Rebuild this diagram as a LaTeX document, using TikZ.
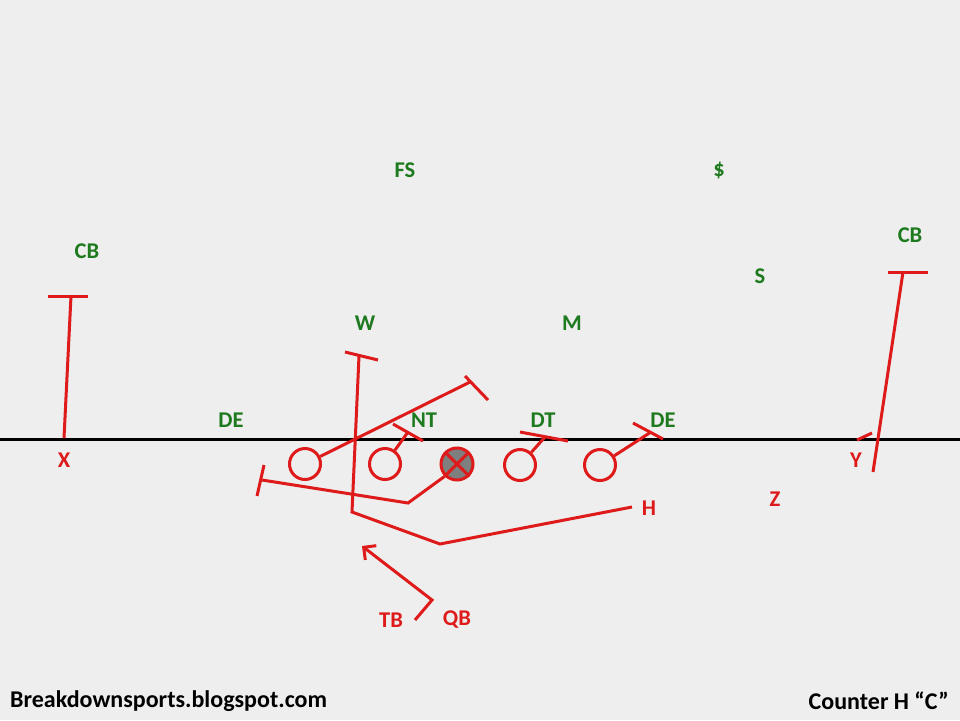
\documentclass[tikz,border=0pt]{standalone}
\usepackage{fontspec}
\setmainfont{Carlito}
\usetikzlibrary{arrows.meta}
\definecolor{fieldbg}{RGB}{238,238,238}
\definecolor{offred}{RGB}{222,26,26}
\definecolor{defgreen}{RGB}{30,122,30}
\definecolor{ballgray}{RGB}{127,127,127}

\begin{document}
\begin{tikzpicture}[x=1pt,y=-1pt,
  route/.style={offred, line width=3pt},
  lineman/.style={circle, draw=offred, line width=3pt, minimum size=31pt, inner sep=0pt},
  deflabel/.style={text=defgreen, font=\fontsize{22.5}{26}\selectfont\bfseries},
  offlabel/.style={text=offred, font=\fontsize{22.5}{26}\selectfont\bfseries}]
%background
\fill[fieldbg] (0,0) rectangle (960,720);
\useasboundingbox (0,0) rectangle (960,720);
%line of scrimmage
\draw[black, line width=3pt] (0,439) -- (960,439);

%defense
\node[deflabel] (fs) at (405,170) {FS};
\node[deflabel] (money) at (719,170) {\$};
\node[deflabel] (lcb) at (87,251) {CB};
\node[deflabel] (rcb) at (910,235) {CB};
\node[deflabel] (ss) at (760,276) {S};
\node[deflabel] (will) at (365,323) {W};
\node[deflabel] (mike) at (572,323) {M};
\node[deflabel] (lde) at (231,420) {DE};
\node[deflabel] (nt) at (424,420) {NT};
\node[deflabel] (dt) at (543,420) {DT};
\node[deflabel] (rde) at (663,420) {DE};

%offense
\node[lineman] (lt) at (305,464) {};
\node[lineman] (lg) at (385,464) {};
\node[lineman, fill=ballgray, minimum size=32pt] (c) at (457,464) {};
\node[lineman] (rg) at (520,465) {};
\node[lineman] (rt) at (600,465) {};
\draw[route] (c.north west) -- (c.south east);
\draw[route] (c.north east) -- (c.south west);
\node[offlabel] (x) at (64,460) {X};
\node[offlabel] (y) at (856,460) {Y};
\node[offlabel] (h) at (649,508) {H};
\node[offlabel] (z) at (775,499) {Z};
\node[offlabel] (tb) at (391,620) {TB};
\node[offlabel] (qb) at (457,620) {QB};

%route points
\coordinate (ltend) at (470,382);
\coordinate (lgend) at (408,432);
\coordinate (rgend) at (545,437);
\coordinate (rtend) at (651,432);
\coordinate (cbend) at (408,503);
\coordinate (cend) at (262,480);
\coordinate (hstart) at (632,507);
\coordinate (hbend) at (440,544);
\coordinate (hturn) at (352,512);
\coordinate (hend) at (359,356);
\coordinate (tbstart) at (415,620);
\coordinate (tbbend) at (432,600);
\coordinate (tbend) at (362,546);
\coordinate (xstart) at (64,438);
\coordinate (xend) at (71,296);
\coordinate (ystart) at (873,472);
\coordinate (yend) at (903,272);

%blocks
\draw[route] (lt) -- (ltend);
\draw[route] ([shift={(-5,-6)}]ltend) -- ([shift={(18,18)}]ltend);
\draw[route] (lg) -- (lgend);
\draw[route] ([shift={(-15,-8)}]lgend) -- ([shift={(15,9)}]lgend);
\draw[route] (rg) -- (rgend);
\draw[route] ([shift={(-25,-5)}]rgend) -- ([shift={(23,4)}]rgend);
\draw[route] (rt) -- (rtend);
\draw[route] ([shift={(-18,-9)}]rtend) -- ([shift={(12,7)}]rtend);
\draw[route] (c.south west) -- (cbend) -- (cend);
\draw[route] ([shift={(2,-15)}]cend) -- ([shift={(-5,16)}]cend);
\draw[route] (hstart) -- (hbend) -- (hturn) -- (hend);
\draw[route] ([shift={(-14,-4)}]hend) -- ([shift={(19,4)}]hend);
\draw[route, -{Straight Barb[length=9pt,width=18pt]}] (tbstart) -- (tbbend) -- (tbend);
\draw[route] (xstart) -- (xend);
\draw[route] ([shift={(-23,0)}]xend) -- ([shift={(17,0)}]xend);
\draw[route] (ystart) -- (yend);
\draw[route] ([shift={(-15,0)}]yend) -- ([shift={(25,0)}]yend);
\draw[route] (857,440) -- (872,433);

%captions
\node[anchor=west, inner sep=0pt, font=\fontsize{24}{28}\selectfont\bfseries] (site) at (10,701) {Breakdownsports.blogspot.com};
\node[anchor=east, inner sep=0pt, font=\fontsize{24}{28}\selectfont\bfseries] (play) at (949,701) {Counter H “C”};
\end{tikzpicture}
\end{document}
